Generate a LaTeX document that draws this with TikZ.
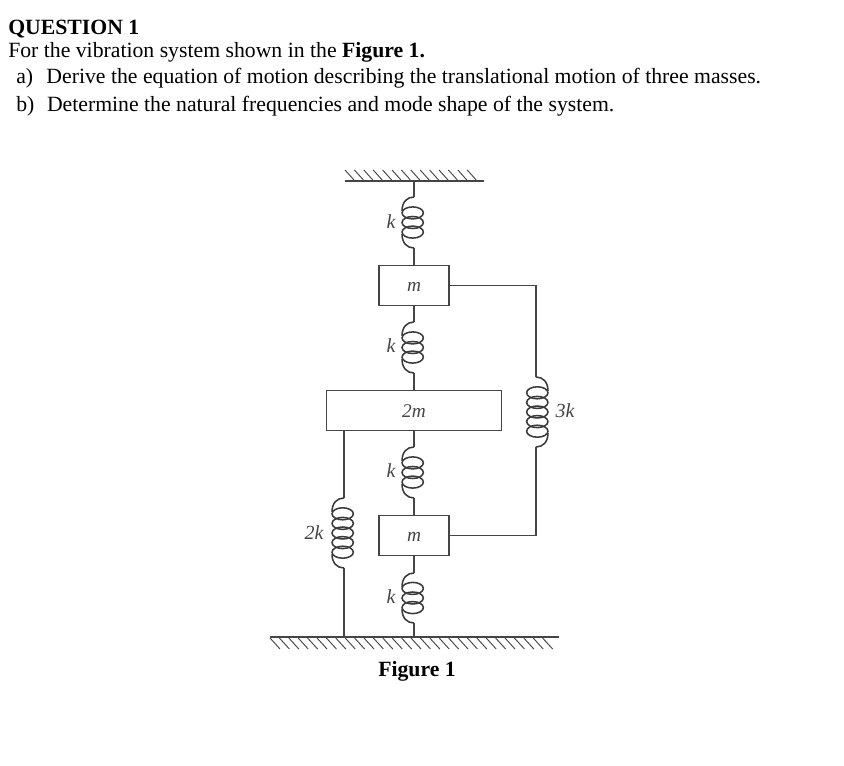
\documentclass[tikz,border=0pt]{standalone}
\usepackage{fontspec}
\setmainfont{Liberation Serif}
\definecolor{ink}{gray}{0.27}
\tikzset{
  px/.style={x=0.75pt,y=-0.75pt},
  wire/.style={draw=ink,line width=0.95pt},
  coilline/.style={draw=ink!85!black,line width=1.15pt},
  massbox/.style={draw=ink,line width=0.95pt,fill=white,inner sep=0pt,font=\fontsize{14.5}{16}\selectfont\itshape,text=ink},
  lbl/.style={inner sep=0pt,font=\fontsize{15}{16}\selectfont\itshape,text=ink},
  body/.style={inner sep=0pt,anchor=base west,font=\fontsize{16.3}{19}\selectfont,text=black},
  hatch/.style={draw=ink,line width=0.7pt},
  wall/.style={draw=ink,line width=0.95pt}
}
% x, y top, y bottom, side (+1 right, -1 left), turns
\newcommand{\coilv}[5]{%
  \pgfmathsetmacro{\xa}{#1+#4*12}%
  \pgfmathsetmacro{\xb}{#1+#4*7}%
  \pgfmathsetmacro{\xc}{#1+#4*1.3}%
  \pgfmathsetmacro{\ym}{(#2+#3)/2}%
  \draw[coilline] (#1,#2) .. controls (\xb,#2) and (\xa,#2+5) .. (\xa,#2+14);
  \draw[coilline] (#1,#3) .. controls (\xb,#3) and (\xa,#3-5) .. (\xa,#3-14);
  \foreach \i in {1,...,#5}{
    \pgfmathsetmacro{\yc}{\ym+(\i-(#5+1)/2)*9.6}
    \draw[coilline] (\xc,\yc) ellipse[x radius=8pt,y radius=4.5pt];
  }%
}
\begin{document}
\begin{tikzpicture}[px]
\useasboundingbox (0,0) rectangle (844,766);
\fill[white] (0,0) rectangle (844,766);
% text
\node[body,font=\fontsize{16.3}{19}\selectfont\bfseries] (q) at (8,35) {QUESTION 1};
\node[body] (l1) at (8,58) {For the vibration system shown in the \textbf{Figure 1.}};
\node[body] (l2) at (16,84) {a)\hspace{10pt}Derive the equation of motion describing the translational motion of three masses.};
\node[body] (l3) at (16,112) {b)\hspace{9.5pt}Determine the natural frequencies and mode shape of the system.};
% supports
\coordinate (ceilL) at (345,181);
\coordinate (ceilR) at (484,181);
\coordinate (ceilS) at (414,181);
\coordinate (floorL) at (270,637);
\coordinate (floorR) at (559,637);
\coordinate (floorA) at (344,637);
\coordinate (floorB) at (414,637);
\draw[wall] (ceilL) -- (ceilR);
\draw[wall] (floorL) -- (floorR);
\foreach \x in {345,354.4,...,476}{\draw[hatch] (\x,170) -- (\x+9,180);}
\foreach \x in {270,279.4,...,550}{\draw[hatch] (\x,638) -- (\x+10,649);}
% masses
\node[massbox,minimum width=52.5pt,minimum height=30.5pt,text height=9.5pt,text depth=0pt] (m1) at (414,285.5) {m};
\node[massbox,minimum width=131pt,minimum height=30.5pt,text height=10.7pt,text depth=0pt] (m2) at (414,410.5) {2m};
\node[massbox,minimum width=52.5pt,minimum height=30.5pt,text height=9.5pt,text depth=0pt] (m3) at (414,535.5) {m};
% named spring ends
\coordinate (s1t) at (414,197); \coordinate (s1b) at (414,248);
\coordinate (s2t) at (414,322); \coordinate (s2b) at (414,373);
\coordinate (s3t) at (414,447); \coordinate (s3b) at (414,498);
\coordinate (s4t) at (414,573); \coordinate (s4b) at (414,623);
\coordinate (sLt) at (344,498); \coordinate (sLb) at (344,568);
\coordinate (sRt) at (536,377); \coordinate (sRb) at (536,447);
\coordinate (m2L) at (344,431);
\coordinate (cR1) at (536,285.5);
\coordinate (cR3) at (536,535.5);
% connectors
\draw[wire] (ceilS) -- (s1t);
\draw[wire] (s1b) -- (m1.north);
\draw[wire] (m1.south) -- (s2t);
\draw[wire] (s2b) -- (m2.north);
\draw[wire] (m2.south) -- (s3t);
\draw[wire] (s3b) -- (m3.north);
\draw[wire] (m3.south) -- (s4t);
\draw[wire] (s4b) -- (floorB);
\draw[wire] (m2L) -- (sLt);
\draw[wire] (sLb) -- (floorA);
\draw[wire] (m1.east) -- (cR1) -- (sRt);
\draw[wire] (sRb) -- (cR3) -- (m3.east);
% springs
\coilv{414}{197}{248}{-1}{3}
\coilv{414}{322}{373}{-1}{3}
\coilv{414}{447}{498}{-1}{3}
\coilv{414}{573}{623}{-1}{3}
\coilv{344}{498}{568}{-1}{5}
\coilv{536}{377}{447}{1}{5}
% labels
\node[lbl] (k1) at (391,222) {k};
\node[lbl] (k2) at (391,346) {k};
\node[lbl] (k3) at (391,471) {k};
\node[lbl] (k4) at (391,597) {k};
\node[lbl] (k2l) at (314,533) {2k};
\node[lbl] (k3l) at (565,411) {3k};
\node[inner sep=0pt,font=\fontsize{16.3}{19}\selectfont\bfseries] (fig) at (417,671) {Figure 1};
\end{tikzpicture}
\end{document}
